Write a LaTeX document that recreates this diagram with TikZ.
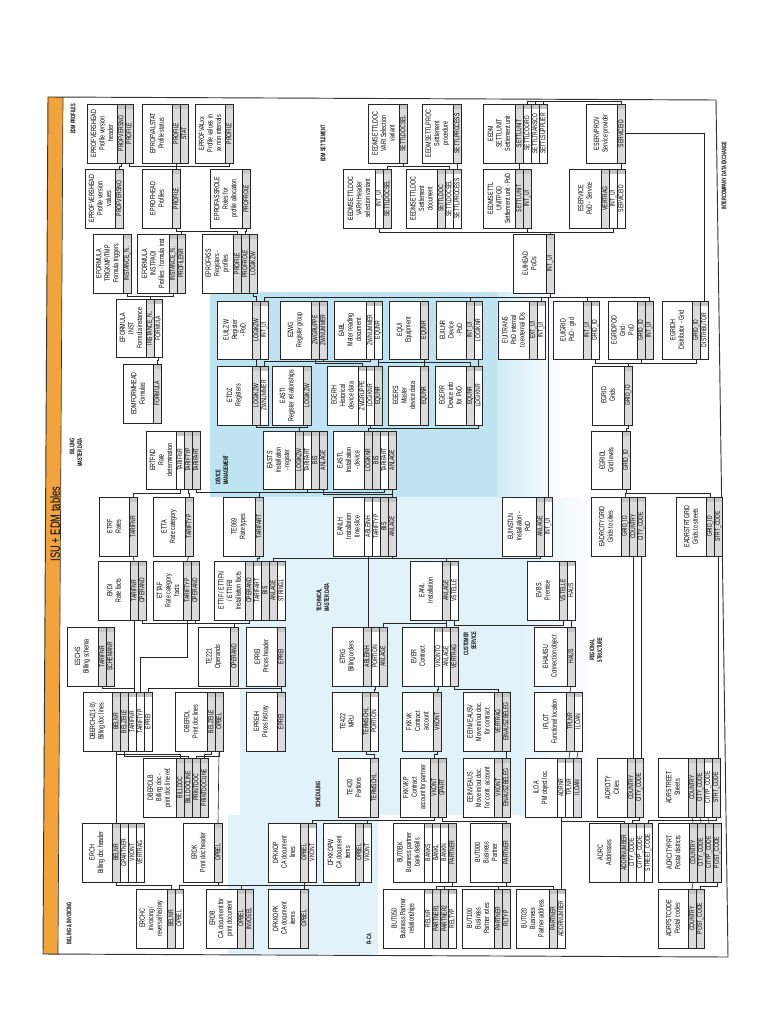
\documentclass[tikz,border=0pt]{standalone}
\usepackage{fontspec}
\setmainfont[FakeStretch=0.7]{Liberation Sans}
\newfontfamily\lblfont[FakeStretch=0.6]{Liberation Sans}
\usepackage{graphicx}
\definecolor{orng}{RGB}{243,163,60}
\definecolor{dmblue}{RGB}{190,228,242}
\definecolor{ltblue}{RGB}{226,242,249}
\tikzset{
  tb/.style={draw=black!85, line width=0.5pt, fill=white, inner sep=0pt, outer sep=0pt, rectangle},
  ttl/.style={rotate=90, align=center, font=\fontsize{5.7}{6.4}\selectfont, inner sep=0pt},
  fc/.style={draw=black!85, line width=0.4pt, inner sep=0pt, outer sep=0pt, minimum width=6pt, font=\fontsize{5.4}{5.4}\selectfont},
  cn/.style={draw=black!85, line width=0.45pt},
  lbl/.style={rotate=90, font=\lblfont\bfseries\fontsize{5}{5.8}\selectfont, inner sep=0pt},
}
\newcommand\tbox[7]{%
  \xdef\nf{0}%
  \foreach \cc/\ff [count=\n] in {#7}{\xdef\nf{\n}}%
  \pgfmathsetmacro\xf{#4-8*\nf}%
  \pgfmathsetmacro\bw{0.75*(\xf-#2)}%
  \pgfmathsetmacro\bh{0.75*(#5-#3)}%
  \node[tb, minimum width=\bw pt, minimum height=\bh pt, anchor=north west] (#1) at (#2,#3) {};%
  \node[ttl] (#1-t) at (#1.center) {#6};%
  \foreach \cc/\ff [count=\n] in {#7}{%
    \pgfmathsetmacro\cx{\xf+8*(\n-1)}%
    \fill[gray!\cc] (\cx,#3) rectangle ++(8,#5-#3);%
    \fill[gray!45] (\cx,#3) rectangle ++(8,5);%
    \node[fc, minimum height=\bh pt, anchor=north west] (#1-\n) at (\cx,#3) {\rotatebox{90}{\ff}};%
  }%
}
\begin{document}
\begin{tikzpicture}[x=0.75pt,y=-0.75pt]
\useasboundingbox (0,0) rectangle (768,1024);
\fill[white] (0,0) rectangle (768,1024);
% backgrounds
\fill[dmblue] (210,292) rectangle (497,497);
\fill[ltblue] (240,497) rectangle (520,815);
\shade[left color=ltblue, right color=white] (520,497) rectangle (595,815);
\shade[left color=dmblue!70, right color=white] (497,292) rectangle (565,497);
\fill[ltblue] (228,815) rectangle (378,954);
% frame
\fill[orng] (48,97) -- (63,97) -- (58,954) -- (43,954) -- cycle;
\draw[black!80, line width=0.7pt] (48,97) -- (716,100) -- (728,957) -- (43,954) -- cycle;
\draw[black!80, line width=0.5pt] (63,97) -- (58,954);
\node[rotate=90, font=\fontsize{10}{12}\selectfont, inner sep=0pt] (title) at (55,524) {ISU + EDM tables};
% labels
\node[lbl, anchor=west] (l1) at (73,134) {EDM PROFILES};
\node[lbl, anchor=west] (l2) at (323,162) {EDM SETTLEMENT};
\node[lbl, anchor=west] (l3) at (724,210) {INTERCOMPANY DATA EXCHANGE};
\node[lbl, anchor=east, align=right] (l4) at (76,438) {BILLING\\MASTER DATA};
\node[lbl, anchor=west, align=left] (l5) at (222,485) {DEVICE\\MANAGEMENT};
\node[lbl, anchor=west, align=left] (l6) at (323,612) {TECHNICAL\\MASTER DATA};
\node[lbl, anchor=east, align=right] (l7) at (470,632) {CUSTOMER\\SERVICE};
\node[lbl, align=center] (l8) at (596,650) {REGIONAL\\STRUCTURE};
\node[lbl, anchor=west] (l9) at (318,808) {SCHEDULING};
\node[lbl, anchor=west] (l10) at (369,945) {FI-CA};
\node[lbl, anchor=west] (l11) at (387,947) {BUSINESS MASTER DATA};
\node[lbl, anchor=west] (l12) at (69,945) {BILLING \& INVOICING};
% Row A
\tbox{pvh}{87}{104}{133}{163}{EPROFVERSHEAD\\Profile version\\header}{28/PROFVERSNO,28/PROFILE}
\tbox{pvs}{142}{104}{188}{163}{EPROFVALSTAT\\Profile status}{28/PROFILE,28/STAT}
\tbox{pvx}{195}{104}{233}{163}{EPROFVALxx\\Profile values in\\xx min intervals}{28/PROFILE}
\tbox{sdv}{368}{104}{407}{163}{EEDMSETTLDOC\\VARI Selection\\variant}{28/SETTLDOCSEL}
\tbox{spr}{422}{104}{461}{163}{EEDMSETTLPROC\\Settlement\\procedure}{28/SETTLPROCESS}
\tbox{sun}{483}{104}{547}{163}{EEDM\\SETTLUNIT\\Settlement unit}{28/SETTLUNIT,0/SETTLCOORD,0/SETTLTRANSCO,0/SETTLSUPPLIER}
\tbox{spv}{586}{104}{625}{163}{ESERVPROV\\Service provider}{28/SERVICEID}
% Row B
\tbox{pvd}{85}{169}{123}{228}{EPROFVERSHEAD\\Profile version\\values}{28/PROFVERSNO}
\tbox{phd}{142}{169}{180}{228}{EPROFHEAD\\Profiles}{28/PROFILE}
\tbox{par}{210}{169}{250}{228}{EPROFASSROLE\\Roles for\\profile allocation}{28/PROFROLE}
\tbox{sdh}{343}{169}{391}{228}{EEDMSETTLDOC\\VARH Header\\selection variant}{0/INT\_UI,28/SETTLDOCSEL}
\tbox{sdc}{406}{169}{461}{228}{EEDMSETTLDOC\\Settlement\\document}{28/SETTLDOC,0/SETTLDOCSEL,0/SETTLPROCESS}
\tbox{sup}{483}{169}{531}{228}{EEDMSETTL\\UNITPOD\\Settlement unit - PoD}{28/SETTLUNIT,28/INT\_UI}
\tbox{ssv}{569}{169}{625}{228}{ESERVICE\\PoD - Service}{28/VERTRAG,0/INT\_UI,0/SERVICEID}
% Row C
\tbox{ftr}{93}{234}{131}{293}{EFORMULA\\TRIGKMP/TMP\\Formula triggers}{28/INSTANCE\_N..}
\tbox{fip}{137}{234}{185}{293}{EFORMULA\\INSTPAOI\\Profiles - formula inst}{28/INSTANCE\_N..,28/PROFILENR}
\tbox{pas}{202}{234}{257}{293}{EPROFASS\\Registers -\\profiles}{28/PROFILE,28/PROFROLE,28/LOGIKZW}
\tbox{uih}{513}{234}{554}{293}{EUIHEAD\\PoDs}{28/INT\_UI}
% Row D
\tbox{fin}{116}{299}{162}{357}{EFORMULA\\INST\\Formula instance}{28/INSTANCE\_N..,0/FORMULA}
\tbox{ulz}{217}{301}{268}{359}{EUILZW\\Register\\- PoD}{28/LOGIKZW,0/INT\_UI}
\tbox{zwg}{280}{301}{327}{359}{EZWG\\Register group}{28/ZWGRUPPE,28/ZWNUMMER}
\tbox{abl}{334}{301}{382}{359}{EABL\\Meter reading\\document}{0/ZWNUMMER,0/EQUNR}
\tbox{equ}{389}{301}{428}{359}{EQUI\\Equipment}{28/EQUNR}
\tbox{uln}{436}{301}{482}{359}{EUILNR\\Device\\- PoD}{28/INT\_UI,0/LOGIKNR}
\tbox{utr}{498}{301}{545}{359}{EUITRANS\\PoD internal\\to external IDs}{28/EXT\_UI,0/INT\_UI}
\tbox{ugr}{553}{301}{599}{359}{EUIGRID\\PoD - grid}{28/INT\_UI,0/GRID\_ID}
\tbox{gpd}{608}{301}{653}{359}{EGRIDPOD\\Grid -\\PoD}{28/GRID\_ID,28/INT\_UI}
\tbox{grh}{662}{301}{708}{359}{EGRIDH\\Distributor - Grid}{28/GRID\_ID,0/DISTRIBUTOR}
% Row E
\tbox{fmh}{123}{364}{161}{423}{EDMFORMHEAD\\Formulas}{28/FORMULA}
\tbox{tdz}{217}{366}{268}{425}{ETDZ\\Registers}{28/LOGIKZW,0/ZWNUMMER}
\tbox{ast}{272}{366}{311}{425}{EASTI\\Register relationships}{28/LOGIKZW}
\tbox{gerh}{327}{366}{382}{425}{EGERH\\Historical\\device data}{0/ZWGRUPPE,0/LOGIKNR,28/EQUNR}
\tbox{gers}{388}{366}{428}{425}{EGERS\\Master\\device data}{28/EQUNR}
\tbox{gerr}{435}{366}{482}{425}{EGERR\\Device info\\for PoD}{28/EQUNR,0/LOGIKNR}
\tbox{grd}{592}{366}{632}{425}{EGRID\\Grids}{28/GRID\_ID}
% Row F
\tbox{rtf}{146}{431}{200}{489}{ERTFND\\Rate\\determination}{0/TARIFNR,28/TARIFTYP,28/TARIFART}
\tbox{asts}{263}{431}{327}{489}{EASTS\\Installation\\- register}{28/LOGIKZW,0/TARIFART,28/BIS,28/ANLAGE}
\tbox{astl}{333}{431}{396}{489}{EASTL\\Installation\\- device}{28/LOGIKNR,28/BIS,0/TARIFART,28/ANLAGE}
\tbox{grl}{591}{431}{630}{489}{EGRIDL\\Grid levels}{28/GRID\_ID}
% Row G
\tbox{trf}{99}{497}{137}{556}{ETRF\\Rates}{28/TARIFNR}
\tbox{tta}{153}{497}{193}{556}{ETTA\\Rate category}{28/TARIFTYP}
\tbox{t69}{223}{497}{263}{556}{TE069\\Rate types}{28/TARIFART}
\tbox{alh}{333}{497}{396}{556}{EANLH\\Installation\\time slice}{0/ABLEINH,0/TARIFTYP,28/BIS,28/ANLAGE}
\tbox{uis}{502}{497}{552}{556}{EUINSTLN\\Installation -\\PoD}{28/ANLAGE,0/INT\_UI}
\tbox{acg}{591}{497}{645}{556}{EADRCITYGRID\\Grids to cities}{28/GRID\_ID,28/COUNTRY,28/CITY\_CODE}
\tbox{asg}{676}{497}{722}{556}{EADRSTRTGRID\\Grids to streets}{28/GRID\_ID,28/STRT\_CODE}
% Row H
\tbox{kdi}{98}{561}{146}{620}{EKDI\\Rate facts}{28/TARIFNR,28/OPERAND}
\tbox{taf}{153}{561}{199}{620}{ETTAF\\Rate category\\facts}{28/TARIFTYP,28/OPERAND}
\tbox{tif}{214}{561}{285}{620}{ETTIF / ETTIFN\\/ ETTIFB\\Installation facts}{28/OPERAND,0/TARIFART,28/BIS,28/ANLAGE,0/STRING1}
\tbox{anl}{410}{561}{458}{620}{EANL\\Installation}{28/ANLAGE,0/VSTELLE}
\tbox{vbs}{527}{561}{575}{620}{EVBS\\Premise}{28/VSTELLE,0/HAUS}
% Row I
\tbox{sch}{67}{627}{114}{686}{ESCHS\\Billing schema}{28/TARIFNR,28/SCHEMANR}
\tbox{t221}{198}{627}{238}{686}{TE221\\Operands}{28/OPERAND}
\tbox{pre}{246}{627}{285}{686}{EPREI\\Prices header}{28/EPREI}
\tbox{trg}{332}{627}{387}{686}{ETRG\\Billing orders}{28/ABLEINH,0/PORTION,28/ANLAGE}
\tbox{ver}{402}{627}{458}{686}{EVER\\Contract}{0/VKONTO,0/ANLAGE,28/VERTRAG}
\tbox{hau}{534}{627}{575}{686}{EHAUISU\\Connection object}{28/HAUS}
% Row J
\tbox{dbz}{83}{692}{152}{751}{DBERCHZ(1-8)\\Billing doc lines}{28/BELNR,28/BELZEILE,0/TARIFNR,0/TARIFTYP,0/EPREI}
\tbox{dbl}{175}{692}{223}{751}{DBERDL\\Print doc lines}{28/BELZEILE,28/OPBEL}
\tbox{prh}{246}{692}{285}{751}{EPREIH\\Prices history}{28/EPREI}
\tbox{t422}{332}{692}{378}{751}{TE422\\MRU}{28/TERMSCHL,0/PORTION}
\tbox{fvk}{402}{692}{441}{751}{FKKVK\\Contract\\account}{28/VKONT}
\tbox{eiv}{463}{692}{510}{751}{EEINVEAUSV\\Move in/out doc.\\for contract}{28/VERTRAG,28/EINAUSZBELEG}
\tbox{ifl}{534}{692}{582}{751}{IFLOT\\Functional location}{28/TPLNR,0/ILOAN}
% Row K
\tbox{dbb}{143}{758}{208}{817}{DBERDLB\\Billing doc -\\print doc line ref.}{28/BILLDOC,28/BILLDOCLINE,28/PRINTDOC,28/PRINTDOCLINE}
\tbox{t420}{338}{758}{378}{817}{TE420\\Partions}{28/TERMSCHL}
\tbox{fvp}{400}{758}{446}{817}{FKKVKP\\Contract\\account for partner}{28/VKONT,28/GPART}
\tbox{eia}{463}{758}{510}{817}{EEINVEAUS\\Move in/out doc.\\for contr. account}{28/VKONT,28/EINAUSZBELEG}
\tbox{ila}{525}{758}{581}{817}{ILOA\\PM object loc.}{0/ADRNR,0/TPLNR,28/ILOAN}
\tbox{acy}{597}{758}{643}{817}{ADRCITY\\Cities}{28/COUNTRY,28/CITY\_CODE}
\tbox{asr}{658}{758}{720}{817}{ADRSTREET\\Streets}{28/COUNTRY,28/CITY\_CODE,0/CITYP\_CODE,28/STRT\_CODE}
% Row L
\tbox{erh}{82}{823}{144}{882}{ERCH\\Billing doc header}{28/BELNR,0/GPARTNER,0/VKONT,0/VERTRAG}
\tbox{erk}{183}{823}{222}{882}{ERDK\\Print doc header}{28/OPBEL}
\tbox{fop}{268}{823}{316}{882}{DFKKOP\\CA document\\lines}{28/OPBEL,0/VKONT}
\tbox{fow}{323}{823}{371}{882}{DFKKOPW\\CA document\\items}{28/OPBEL,0/VKONT}
\tbox{bbk}{393}{823}{456}{882}{BUT0BK\\Business partner\\bank details}{0/BANKS,0/BANKL,0/BANKN,28/PARTNER}
\tbox{b00}{470}{823}{510}{882}{BUT000\\Business\\Partner}{28/PARTNER}
\tbox{adc}{589}{823}{652}{882}{ADRC\\Addresses}{28/ADDRNUMBER,0/CITY\_CODE,0/CITYP\_CODE,0/STREET\_CODE}
\tbox{acp}{658}{823}{721}{882}{ADRCITYPRT\\Postal districts}{28/COUNTRY,28/CITY\_CODE,28/CITYP\_CODE,28/POST\_CODE}
% Row M
\tbox{erc}{136}{889}{183}{948}{ERCHC\\Invoicing /\\reversal history}{28/BELNR,0/OPBEL}
\tbox{erb}{206}{889}{253}{948}{ERDB\\CA document for\\print document}{28/OPBEL,28/INVOSEL}
\tbox{fok}{268}{889}{308}{948}{DFKKOPK\\CA document\\items}{28/OPBEL}
\tbox{b50}{383}{889}{456}{948}{BUT050\\Business Partner\\relationships}{0/RELNR,28/PARTNER1,28/PARTNER2,0/RELTYP}
\tbox{b10}{462}{889}{510}{948}{BUT100\\Business\\Partner roles}{28/PARTNER,28/RLTYP}
\tbox{b20}{516}{889}{565}{948}{BUT020\\Business\\Partner address}{28/PARTNER,0/ADDRNUMBER}
\tbox{apc}{658}{889}{704}{948}{ADRPSTCODE\\Postal codes}{28/COUNTRY,28/POST\_CODE}
% ---------- connectors
% profiles
\draw[cn] (pvh-1.south) -- ++(0,3) -| (pvd-1.north);
\draw[cn] (pvh-2.south) -- ++(0,3) -| (pvx-1.south);
\draw[cn] (pvs-1.south) -- (phd-1.north);
\draw[cn] (phd-1.south) -- ++(0,3) -| (pas-1.north);
\draw[cn] (fip-2.north) -- ++(0,-3) -| (phd-1.south);
\draw[cn] (par-1.south) -- ++(0,3) -| (pas-2.north);
\draw[cn] (ftr-1.south) -- ++(0,3) -| (fip-1.south);
\draw[cn] (fip-1.south) -- ++(0,3) -| (fin-1.north);
\draw[cn] (fin-2.south) -- ++(0,3) -| (fmh-1.north);
\draw[cn] (pas-3.south) -- ++(0,3) -| (ulz-1.north);
% settlement
\draw[cn] (sdv-1.south) -- ++(0,3) -| (sdh-2.north);
\draw[cn] (sdv-1.south) -- ++(0,3) -| (sdc-2.north);
\draw[cn] (spr-1.south) -- (sdc-3.north);
\draw[cn] (sun-1.south) -- (sup-1.north);
\draw[cn] (sun-2.north) -- ++(0,-3) -| (spv-1.north);
\draw[cn] (sun-3.north) -- ++(0,-3);
\draw[cn] (sun-4.north) -- ++(0,-3);
\draw[cn] (spv-1.south) -- (ssv-3.north);
\draw[cn] (spv-1.east) -| (grh-2.north);
\draw[cn] (sdh-1.south) -- ++(0,4) -| (ssv-2.south);
\draw[cn] (sup-2.south) -- ++(0,4);
\draw[cn] (uih-1.north) -- ++(0,-2);
\draw[cn] (uih-1.south) -- ++(0,4) -| (uis-2.north);
\draw[cn] (ulz-2.north) -- ++(0,-4) -| (gpd-2.north);
\draw[cn] (uln-1.north) -- ++(0,-4);
\draw[cn] (utr-2.north) -- ++(0,-4);
\draw[cn] (ugr-1.north) -- ++(0,-4);
% device management
\draw[cn] (ulz-1.south) -- (tdz-1.north);
\draw[cn] (tdz-2.north) -- ++(0,-5) -| (abl-1.south);
\draw[cn] (zwg-2.south) -- ++(0,2);
\draw[cn] (zwg-1.south) -- ++(0,4) -| (gerh-1.north);
\draw[cn] (abl-2.south) -- (gerh-3.north);
\draw[cn] (abl-2.south) -- ++(0,3) -| (gerr-1.north);
\draw[cn] (equ-1.south) -- (gers-1.north);
\draw[cn] (uln-2.south) -- (gerr-2.north);
\draw[cn] (gerr-2.south) -- ++(0,3) -| (astl-1.north);
\draw[cn] (gerh-2.south) -- ++(0,3);
\draw[cn] (ast-1.south) -- ++(0,2) -| (tdz-1.south);
\draw[cn] (asts-1.north) -- ++(0,-4);
\draw[cn] (rtf-1.south) -- ++(0,4) -| (trf-1.north);
\draw[cn] (rtf-2.south) -- ++(0,4) -| (tta-1.north);
\draw[cn] (rtf-3.south) -- ++(0,3) -| (astl-3.south);
\draw[cn] (t69-1.north) -- ++(0,-5);
\draw[cn] (asts-2.south) -- ++(0,3);
\draw[cn] (asts-4.south) -- ++(0,5) -| (alh-4.north);
\draw[cn] (astl-4.south) -- (alh-4.north);
% grids
\draw[cn] (ugr-2.south) -- ++(0,4) -| (grh-1.south);
\draw[cn] (gpd-1.south) -- ++(0,4);
\draw[cn] (grd-1.north) -- ++(0,-3);
\draw[cn] (grd-1.south) -- ++(0,3) -| (grl-1.north);
\draw[cn] (grl-1.south) -- ++(0,4) -| (asg-1.north);
\draw[cn] (acg-1.north) -- ++(0,-4);
\draw[cn] (acg-2.south) -- (acg-2.south |- acy-1.north);
\draw[cn] (acg-3.south) -- (acg-3.south |- acy-2.north);
\draw[cn] (asg-2.south) -- (asg-2.south |- asr-4.north);
% installation
\draw[cn] (tif-4.north) -- ++(0,-3) -| (uis-1.south);
\draw[cn] (alh-4.south) -- ++(0,2);
\draw[cn] (anl-1.north) -- ++(0,-3);
\draw[cn] (t69-1.south) -- ++(0,2) -| (tif-2.north);
\draw[cn] (alh-1.south) -- (alh-1.south |- trg-1.north);
\draw[cn] (trg-3.north) -- ++(0,-4) -| (anl-1.south);
\draw[cn] (anl-1.south) -- (ver-2.north);
\draw[cn] (anl-2.south) -- ++(0,5) -| (vbs-1.south);
\draw[cn] (vbs-2.south) -- (hau-1.north);
\draw[cn] (hau-1.south) -- (ifl-1.north);
\draw[cn] (ifl-1.south) -- (ila-2.north);
\draw[cn] (ifl-2.south) -- (ila-3.north);
% addresses
\draw[cn] (ila-1.south) -- ++(0,4) -| (adc-1.north);
\draw[cn] (ila-1.south) -- (b20-2.north);
\draw[cn] (acy-2.south) -- ++(0,3) -| (adc-2.north);
\draw[cn] (asr-4.south) -- ++(0,3) -| (adc-4.north);
\draw[cn] (asr-1.south) -- (acp-1.north);
\draw[cn] (asr-2.south) -- (acp-2.north);
\draw[cn] (asr-3.south) -- (acp-3.north);
\draw[cn] (acp-1.south) -- (apc-1.north);
\draw[cn] (acp-4.south) -- ++(0,4) -| (apc-2.north);
% billing
\draw[cn] (trf-1.south) -- (kdi-1.north);
\draw[cn] (tta-1.south) -- (taf-1.north);
\draw[cn] (kdi-2.south) -- ++(0,3) -| (t221-1.north);
\draw[cn] (taf-2.south) -- ++(0,3);
\draw[cn] (tif-1.south) -- ++(0,3) -| (t221-1.north);
\draw[cn] (kdi-1.south) -- (kdi-1.south |- dbz-3.north);
\draw[cn] (sch-1.south) -- ++(0,2) -| (kdi-1.south |- dbz-3.north);
\draw[cn] (taf-1.south) -- ++(0,37) -| (dbz-4.north);
\draw[cn] (dbz-5.north) -- ++(0,-4) -| (pre-1.south);
\draw[cn] (pre-1.south) -- (prh-1.north);
\draw[cn] (dbz-1.south) -- (erh-1.north);
\draw[cn] (dbz-1.south) -- ++(0,3) -| (dbb-1.north);
\draw[cn] (dbz-2.south) -- ++(0,5) -| (dbb-2.north);
\draw[cn] (dbl-1.south) -- ++(0,3) -| (dbb-4.north);
\draw[cn] (dbl-2.south) -- ++(0,5) -| (dbb-3.north);
\draw[cn] (dbl-2.south) -- (erk-1.north);
\draw[cn] (erh-1.south) -- ++(0,3) -| (erc-1.north);
\draw[cn] (erk-1.south) -- ++(0,3) -| (erc-2.north);
\draw[cn] (erk-1.south) -- ++(0,3) -| (fow-1.south);
\draw[cn] (erb-1.north) -- ++(0,-4);
\draw[cn] (fop-1.south) -- (fok-1.north);
\draw[cn] (fop-2.north) -- ++(0,-3) -| (fvp-1.south);
\draw[cn] (fow-2.north) -- ++(0,-3);
\draw[cn] (fvp-2.south) -- ++(0,4) -| (b00-1.north);
\draw[cn] (fvk-1.south) -- ++(0,3) -| (fvp-1.north);
\draw[cn] (ver-1.south) -- ++(0,3) -| (fvk-1.north);
\draw[cn] (ver-3.south) -- ++(0,3) -| (eiv-1.north);
\draw[cn] (eiv-2.south) -- (eia-2.north);
\draw[cn] (t422-1.south) -- ++(0,3) -| (t420-1.north);
\draw[cn] (trg-2.south) -- ++(0,3) -| (t422-2.north);
% business partner
\draw[cn] (b50-2.north) -- ++(0,-3) -| (b20-1.north);
\draw[cn] (b50-3.north) -- ++(0,-3);
\draw[cn] (bbk-4.south) -- ++(0,4);
\draw[cn] (b00-1.south) -- ++(0,4);
\draw[cn] (b10-1.north) -- ++(0,-3);
\end{tikzpicture}
\end{document}
